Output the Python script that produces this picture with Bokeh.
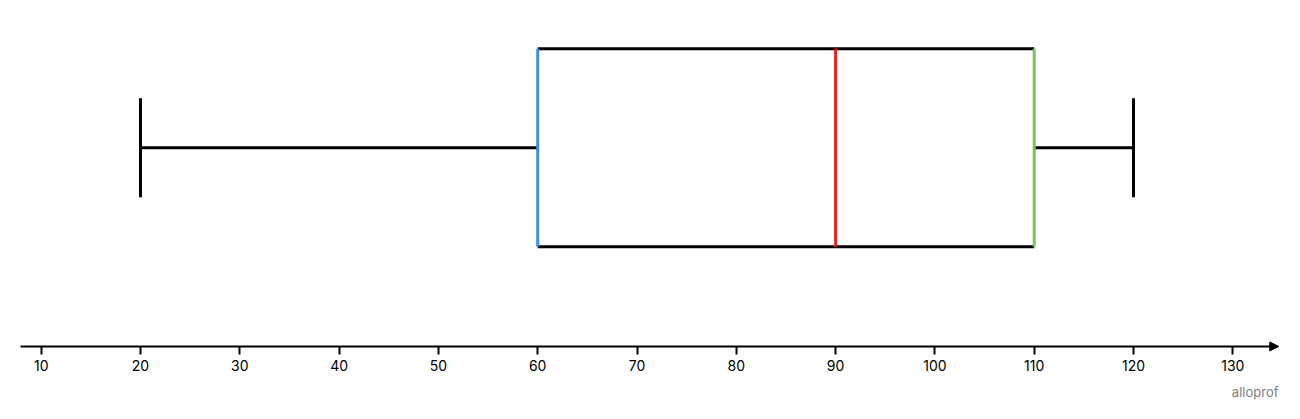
from bokeh.plotting import figure
from bokeh.models import Range1d, LinearAxis, FixedTicker, Arrow, NormalHead, Title
from bokeh.embed import file_html
from bokeh.resources import INLINE

# Five-number summary
stat_names = ["min", "q1", "median", "q3", "max"]
stat_values = [20, 60, 90, 110, 120]
tick_values = [10, 20, 30, 40, 50, 60, 70, 80, 90, 100, 110, 120, 130]
tick_labels = [str(t) for t in tick_values]

vmin, q1, med, q3, vmax = stat_values

BLUE = "#3d8fdc"
RED = "#f21c1c"
GREEN = "#7cc552"
LW = 3

p = figure(width=1284, height=418,
           x_range=Range1d(5.901, 135.206), y_range=Range1d(-2.068, 1.488),
           output_backend="svg", toolbar_location=None,
           min_border_left=0, min_border_right=0, min_border_top=0, min_border_bottom=66,
           x_axis_location=None, y_axis_location=None)
p.outline_line_color = None
p.xgrid.visible = False
p.ygrid.visible = False
p.background_fill_color = "white"
p.border_fill_color = "white"

# whiskers
p.segment(x0=[vmin, q3], y0=[0, 0], x1=[q1, vmax], y1=[0, 0], line_color="black", line_width=LW)
p.segment(x0=[vmin, vmax], y0=[-0.5, -0.5], x1=[vmin, vmax], y1=[0.5, 0.5], line_color="black", line_width=LW)
# box top / bottom
p.segment(x0=[q1, q1], y0=[1, -1], x1=[q3, q3], y1=[1, -1], line_color="black", line_width=LW)
# box sides and median
p.segment(x0=[q1, med, q3], y0=[-1, -1, -1], x1=[q1, med, q3], y1=[1, 1, 1],
          line_color=[BLUE, RED, GREEN], line_width=LW)

axis = LinearAxis(ticker=FixedTicker(ticks=tick_values),
                  axis_line_color=None,
                  major_tick_in=6, major_tick_out=2,
                  major_tick_line_width=2, major_tick_line_color="black",
                  minor_tick_line_color=None,
                  major_label_text_font="Inter", major_label_text_font_size="14px",
                  major_label_text_color="black",
                  major_label_standoff=5,
                  major_label_overrides={t: l for t, l in zip(tick_values, tick_labels)})
p.add_layout(axis, "below")

p.add_layout(Arrow(end=NormalHead(size=9, fill_color="black", line_color="black", line_width=1),
                   x_start=7.915, x_end=134.63, y_start=-2.007, y_end=-2.007,
                   line_width=2, line_color="black"))

p.add_layout(Title(text="alloprof", align="right", offset=6, standoff=17,
                   text_font="Inter", text_font_size="13px", text_font_style="normal",
                   text_color="#808080"), "below")

open("out.html", "w").write(file_html(p, INLINE))
